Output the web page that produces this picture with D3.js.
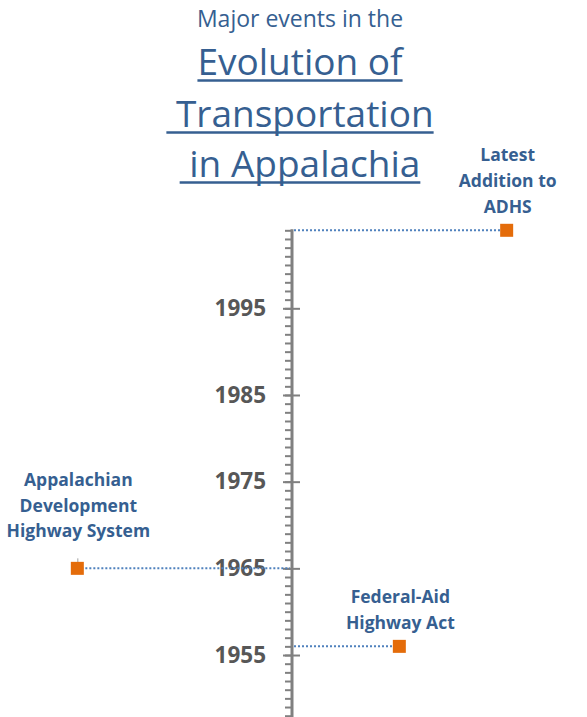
<!DOCTYPE html>
<html>
<head>
<meta charset="utf-8">
<script src="https://cdn.jsdelivr.net/npm/d3@7"></script>
<style>
  body { margin: 0; background: #fff; }
  text { font-family: "Open Sans", sans-serif; }
</style>
</head>
<body>
<div id="chart"></div>
<script>
// Chart data
var eventYears = [2004, 1965, 1956];
var eventSide = [2, -2, 1];   // horizontal offset from the timeline
var eventLabels = [
    ["Latest", "Addition to", "ADHS"],
    ["Appalachian", "Development", "Highway System"],
    ["Federal-Aid", "Highway Act"]
];
var majorYears = [1955, 1965, 1975, 1985, 1995];
var titleLines = ["Major events in the", "Evolution of", " Transportation", " in Appalachia"];

var svgWidth = 587;
var svgHeight = 717;

var svg = d3.select("#chart")
    .append("svg")
    .attr("width", svgWidth)
    .attr("height", svgHeight);

// Scales
var yScale = d3.scaleLinear()
    .domain([1945, 2004])
    .range([741.7, 230.3]);

var xScale = d3.scaleLinear()
    .domain([-3, 3])
    .range([292 - 322, 292 + 322]);

var blue = "#365f91";

// Title
var titleSizes = [23, 37, 37, 37];
var titleBase = [27, 75, 127, 177];
titleLines.forEach(function (line, i) {
    var t = svg.append("text")
        .attr("x", 300)
        .attr("y", titleBase[i])
        .attr("text-anchor", "middle")
        .style("white-space", "pre")
        .attr("font-size", titleSizes[i])
        .attr("fill", blue)
        .text(line);
    if (i > 0) {
        var w = t.node().getComputedTextLength();
        svg.append("line")
            .attr("x1", 300 - w / 2)
            .attr("x2", 300 + w / 2)
            .attr("y1", titleBase[i] + 5.5)
            .attr("y2", titleBase[i] + 5.5)
            .attr("stroke", blue)
            .attr("stroke-width", 2.5);
    }
});

// Axis
var axisX = xScale(0);
var axisGroup = svg.append("g")
    .attr("transform", `translate(${axisX}, 0)`);

var minorAxis = d3.axisLeft(yScale)
    .tickValues(d3.range(1945, 2005))
    .tickSize(7)
    .tickFormat("");

axisGroup.append("g").call(minorAxis)
    .call(g => g.select(".domain").remove())
    .selectAll("line")
    .attr("stroke", "#808080")
    .attr("stroke-width", 2);

var majorAxis = d3.axisLeft(yScale)
    .tickValues(majorYears)
    .tickSize(9)
    .tickPadding(17)
    .tickFormat(d3.format("d"));

var major = axisGroup.append("g").call(majorAxis);
major.select(".domain").remove();
major.selectAll("line")
    .attr("x1", 8)
    .attr("stroke", "#808080")
    .attr("stroke-width", 2);
major.selectAll("text")
    .attr("font-family", "Open Sans, sans-serif")
    .attr("font-size", 22.5)
    .attr("font-weight", "bold")
    .attr("fill", "#575757");

axisGroup.append("line")
    .attr("x1", 0)
    .attr("x2", 0)
    .attr("y1", yScale(2004) - 1)
    .attr("y2", svgHeight + 20)
    .attr("stroke", "#808080")
    .attr("stroke-width", 3);

// Events
var events = eventYears.map(function (y, i) {
    return { year: y, side: eventSide[i], label: eventLabels[i] };
});

var eventGroup = svg.selectAll(".event")
    .data(events)
    .enter()
    .append("g")
    .attr("class", "event");

eventGroup.append("line")
    .attr("x1", d => d.side > 0 ? axisX + 2 : xScale(d.side))
    .attr("x2", d => d.side > 0 ? xScale(d.side) : axisX - 2)
    .attr("y1", d => yScale(d.year))
    .attr("y2", d => yScale(d.year))
    .attr("stroke", "#4f81bd")
    .attr("stroke-width", 2)
    .attr("stroke-dasharray", "2,2");

// small leader tick above the left-hand marker
eventGroup.filter(d => d.side < 0)
    .append("line")
    .attr("x1", d => xScale(d.side) + 0.5)
    .attr("x2", d => xScale(d.side) + 0.5)
    .attr("y1", d => yScale(d.year) - 10)
    .attr("y2", d => yScale(d.year))
    .attr("stroke", "#a0a0a0")
    .attr("stroke-width", 1);

eventGroup.append("rect")
    .attr("x", d => xScale(d.side) - 6.5)
    .attr("y", d => yScale(d.year) - 6.5)
    .attr("width", 13)
    .attr("height", 13)
    .attr("fill", "#e46c0a");

eventGroup.each(function (d) {
    var n = d.label.length;
    var g = d3.select(this);
    // left-hand label sits above its leader tick
    var gap = d.side < 0 ? 31 : 17.5;
    d.label.forEach(function (line, j) {
        g.append("text")
            .attr("x", xScale(d.side) + 1)
            .attr("y", yScale(d.year) - gap - (n - 1 - j) * 25.8)
            .attr("text-anchor", "middle")
            .attr("font-size", 17.5)
            .attr("font-weight", "bold")
            .attr("fill", blue)
            .text(line);
    });
});
</script>
</body>
</html>
